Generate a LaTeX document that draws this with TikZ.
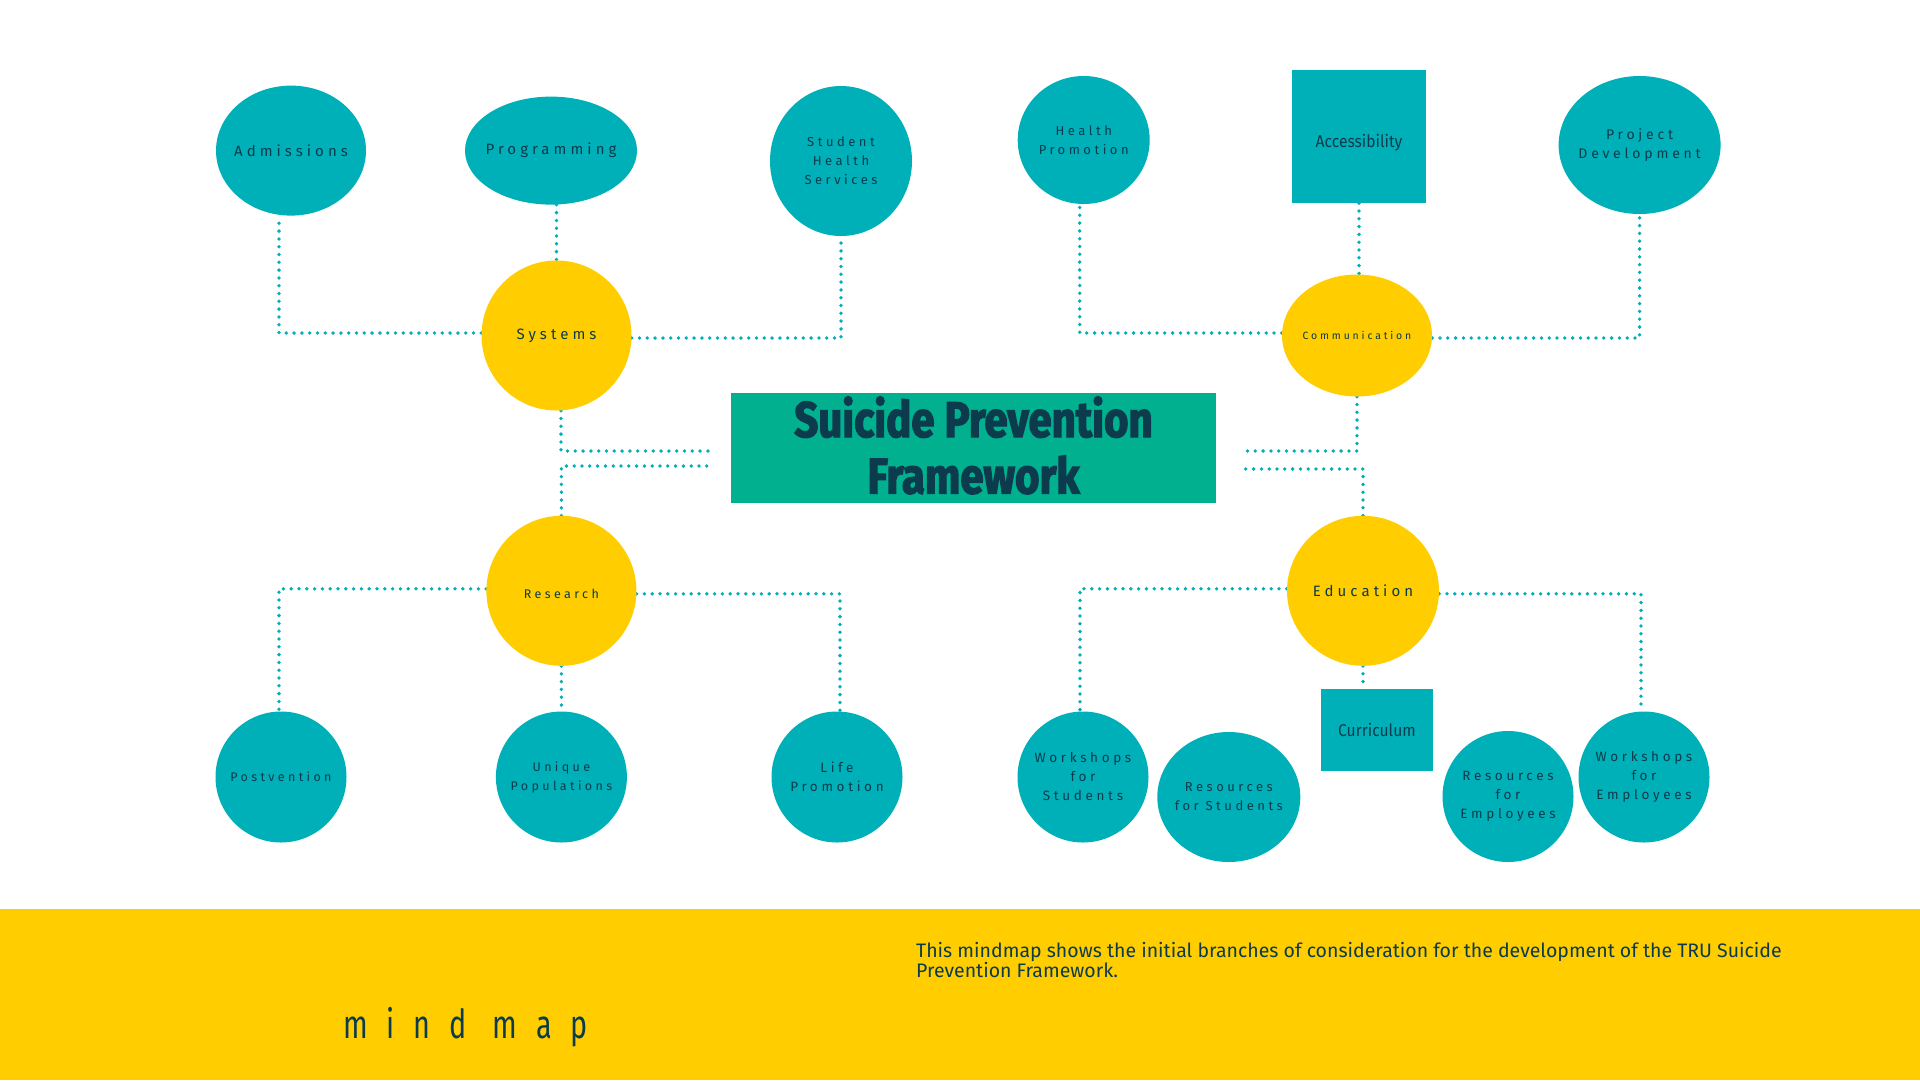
\documentclass[tikz,border=0pt]{standalone}
\usepackage{fontspec}
\setmainfont{Fira Sans}
\newfontfamily\lblfont[LetterSpace=27]{Fira Sans}
\newfontfamily\boxfont[FakeStretch=0.92]{Fira Sans}
\newfontfamily\titlefont[FakeStretch=0.84,BoldFeatures={FakeBold=2.5}]{Fira Sans}
\newfontfamily\mmfont[FakeStretch=0.72,LetterSpace=47]{Fira Sans}
\newfontfamily\descfont{Fira Sans}
\usetikzlibrary{shapes.geometric,backgrounds}
\definecolor{tealc}{HTML}{00B0B9}
\definecolor{yel}{HTML}{FFCD00}
\definecolor{grn}{HTML}{00B08F}
\definecolor{dtext}{HTML}{0B3B4C}
\begin{document}
\begin{tikzpicture}[x=1pt,y=-1pt,
  bub/.style={ellipse, fill=tealc, inner sep=0pt},
  hub/.style={ellipse, fill=yel, inner sep=0pt},
  sqbox/.style={rectangle, fill=tealc, inner sep=0pt},
  lbl/.style={text=dtext, align=center, inner sep=0pt, font=\lblfont\fontsize{#1}{19}\selectfont},
  boxlbl/.style={text=dtext, inner sep=0pt, font=\boxfont\fontsize{17}{20}\selectfont},
  titletext/.style={text=dtext, inner sep=0pt, anchor=base, font=\titlefont\bfseries\fontsize{50}{56}\selectfont},
  dotline/.style={draw=tealc, line width=3.8pt, dash pattern=on 0pt off 7.8pt, line cap=round}]
\useasboundingbox (0,0) rectangle (1920,1080);

% top-left group
\node[bub, minimum width=150pt, minimum height=130pt, label={[lbl=15]center:Admissions}] (adm) at (291,150.6) {};
\node[bub, minimum width=172pt, minimum height=108pt, label={[lbl=15]center:Programming}] (prog) at (551,150.6) {};
\node[bub, minimum width=142pt, minimum height=150pt, label={[lbl=13]center:{Student\\Health\\Services}}] (shs) at (841,161) {};
\node[hub, minimum width=150pt, minimum height=150pt, label={[lbl=15]center:Systems}] (sys) at (556.5,335.5) {};

% top-right group
\node[bub, minimum width=132pt, minimum height=128pt, label={[lbl=13]center:{Health\\Promotion}}] (hp) at (1083.7,140) {};
\node[sqbox, minimum width=134.5pt, minimum height=133pt, label={[boxlbl, yshift=-6pt]center:Accessibility}] (acc) at (1359,136.5) {};
\node[bub, minimum width=162pt, minimum height=138pt, label={[lbl=14]center:{Project\\Development}}] (pd) at (1639.6,145) {};
\node[hub, minimum width=150pt, minimum height=122pt, label={[lbl=10.5]center:Communication}] (comm) at (1357,335.5) {};

% centre
\node[rectangle, fill=grn, minimum width=485pt, minimum height=110pt, inner sep=0pt] (frame) at (973.5,448) {};
\node[titletext] (t1) at (973.5,437) {Suicide Prevention};
\node[titletext] (t2) at (973.5,493.5) {Framework};

% bottom-left group
\node[hub, minimum width=150pt, minimum height=150pt, label={[lbl=12.5, yshift=-3pt]center:Research}] (res) at (561.4,590.8) {};
\node[bub, minimum width=131pt, minimum height=131pt, label={[lbl=12.5]center:Postvention}] (post) at (281,777) {};
\node[bub, minimum width=131pt, minimum height=131pt, label={[lbl=12.5]center:{Unique\\Populations}}] (uniq) at (561.4,777) {};
\node[bub, minimum width=131pt, minimum height=131pt, label={[lbl=13.5]center:{Life\\Promotion}}] (life) at (837,777) {};

% bottom-right group
\node[hub, minimum width=152pt, minimum height=150pt, label={[lbl=15]center:Education}] (edu) at (1363,590.8) {};
\node[bub, minimum width=131pt, minimum height=131pt, label={[lbl=13.5]center:{Workshops\\for\\Students}}] (wfs) at (1083,777) {};
\node[bub, minimum width=143pt, minimum height=130pt, label={[lbl=13]center:{Resources\\for Students}}] (rfs) at (1228.8,797) {};
\node[sqbox, minimum width=112pt, minimum height=82pt, label={[boxlbl]center:Curriculum}] (curr) at (1377,730) {};
\node[bub, minimum width=131pt, minimum height=131pt, label={[lbl=13.5]center:{Resources\\for\\Employees}}] (rfe) at (1508,796.5) {};
\node[bub, minimum width=131pt, minimum height=131pt, label={[lbl=13.5]center:{Workshops\\for\\Employees}}] (wfe) at (1644,777) {};

% free ends near the centre box
\coordinate (l1) at (708,451);
\coordinate (l2) at (708,466);
\coordinate (r1) at (1245,451);
\coordinate (r2) at (1245,469);

% bottom band texts
\node[anchor=base west, text=dtext, inner sep=0pt, font=\mmfont\fontsize{40}{40}\selectfont] (mm) at (343,1038) {mind map};
\node[anchor=north west, align=left, text=dtext, inner sep=0pt, font=\descfont\fontsize{19.5}{20}\selectfont] (desc) at (916,942) {This mindmap shows the initial branches of consideration for the development of the TRU Suicide\\Prevention Framework.};

\begin{pgfonlayer}{background}
\fill[white] (0,0) rectangle (1920,1080);
\fill[yel] (0,908.6) rectangle (1920,1080);
% Systems
\draw[dotline] ([yshift=2.5pt]sys.west) -| ([xshift=-12pt]adm.south);
\draw[dotline] (sys.north |- prog.south) -- (sys.north);
\draw[dotline] ([yshift=-2.5pt]sys.east) -| (shs.south);
\draw[dotline] ([xshift=4.5pt]sys.south) |- (l1);
% Research
\draw[dotline] (res.north) |- (l2);
\draw[dotline] ([yshift=2pt]res.west) -| ([xshift=-2pt]post.north);
\draw[dotline] (res.south) -- (uniq.north);
\draw[dotline] ([yshift=-3pt]res.east) -| ([xshift=3pt]life.north);
% Communication
\draw[dotline] ([yshift=2.5pt]comm.west) -| ([xshift=-4pt]hp.south);
\draw[dotline] (acc.south) -- (acc.south |- comm.north);
\draw[dotline] ([yshift=-2.5pt]comm.east) -| (pd.south);
\draw[dotline] (comm.south) |- (r1);
% Education
\draw[dotline] (edu.north) |- (r2);
\draw[dotline] ([yshift=2pt]edu.west) -| ([xshift=-3pt]wfs.north);
\draw[dotline] (edu.south) -- (edu.south |- curr.north);
\draw[dotline] ([yshift=-3pt]edu.east) -| ([xshift=-3pt]wfe.north);
\end{pgfonlayer}
\end{tikzpicture}
\end{document}
